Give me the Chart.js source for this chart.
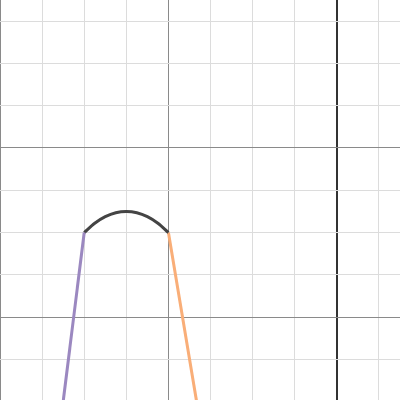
<!DOCTYPE html>
<html lang="en">
<head>
<meta charset="UTF-8">
<title>Graph</title>
<script src="https://cdn.jsdelivr.net/npm/chart.js"></script>
<style>
html, body { margin: 0; padding: 0; background: #fff; }
.wrap { position: relative; width: 400px; height: 400px; }
</style>
</head>
<body>
<div class="wrap"><canvas id="graph"></canvas></div>
<script>
// points (graph units, one minor grid square = 1)
const purpleX = [-6.5, -6];
const purpleY = [-10, -6];
const archX = [-6, -5.75, -5.5, -5.25, -5, -4.75, -4.5, -4.25, -4];
const archY = [-6, -5.78, -5.625, -5.53, -5.5, -5.53, -5.625, -5.78, -6];
const orangeX = [-4, -3.33];
const orangeY = [-6, -10];

const xTicks = [-8, -7, -6, -5, -4, -3, -2, -1, 0, 1];
const yTicks = [-9, -8, -7, -6, -5, -4, -3, -2, -1];

const toPts = (xs, ys) => xs.map((x, i) => ({ x: x, y: ys[i] }));

function gridColor(ctx) {
  const v = ctx.tick.value;
  if (v === 0) return '#333';
  if (v % 4 === 0) return '#8a8a8a';
  return '#dcdcdc';
}
function gridWidth(ctx) {
  return ctx.tick.value === 0 ? 2 : 1;
}

new Chart(document.getElementById('graph'), {
  type: 'scatter',
  data: {
    datasets: [
      { data: toPts(purpleX, purpleY), showLine: true, borderColor: '#9b88c0', borderWidth: 3, pointRadius: 0 },
      { data: toPts(archX, archY), showLine: true, borderColor: '#444', borderWidth: 3, pointRadius: 0, cubicInterpolationMode: 'monotone' },
      { data: toPts(orangeX, orangeY), showLine: true, borderColor: '#f9ae78', borderWidth: 3, pointRadius: 0 }
    ]
  },
  options: {
    responsive: true,
    maintainAspectRatio: false,
    animation: false,
    layout: { padding: 0 },
    plugins: { legend: { display: false }, tooltip: { enabled: false } },
    scales: {
      x: {
        type: 'linear', min: -8, max: 1.5,
        afterBuildTicks: s => { s.ticks = xTicks.map(v => ({ value: v })); },
        ticks: { display: false },
        border: { display: false },
        grid: { color: gridColor, lineWidth: gridWidth, drawTicks: false }
      },
      y: {
        type: 'linear', min: -9.96, max: -0.5,
        afterBuildTicks: s => { s.ticks = yTicks.map(v => ({ value: v })); },
        ticks: { display: false },
        border: { display: false },
        grid: { color: gridColor, lineWidth: gridWidth, drawTicks: false }
      }
    }
  }
});
</script>
</body>
</html>
